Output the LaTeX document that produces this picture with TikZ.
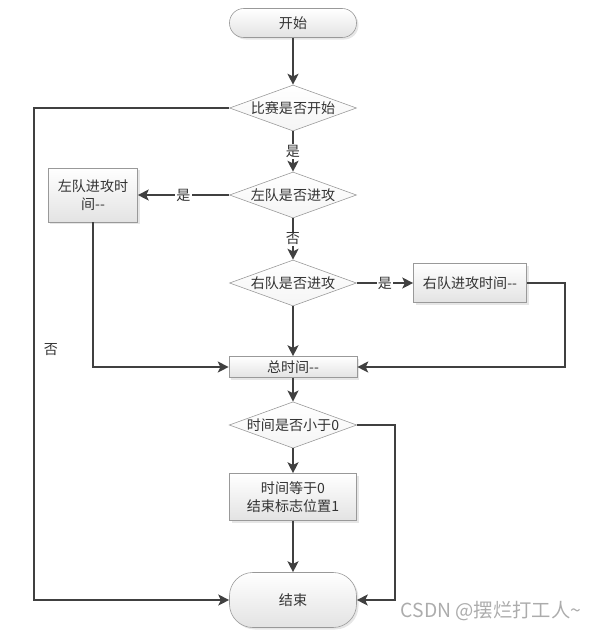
\documentclass[tikz,border=0pt]{standalone}
\usepackage{fontspec}
\setmainfont{Noto Sans CJK SC}
\usetikzlibrary{positioning,arrows.meta,shapes.geometric,shadows}

\begin{document}
\begin{tikzpicture}[x=0.3mm, y=-0.3mm, >={Stealth[length=3.3mm,width=3.3mm,inset=0.8mm]},
  every node/.style={font=\fontsize{12}{15}\selectfont, text=black!80},
  box/.style={draw=gray!80, line width=0.5pt, top color=white, bottom color=gray!22, align=center, inner sep=2pt,
    drop shadow={opacity=0.2, shadow xshift=0.6mm, shadow yshift=-0.6mm}},
  term/.style={box, minimum width=38.1mm},
  decide/.style={diamond, draw=gray!80, line width=0.5pt, top color=white, bottom color=gray!8, aspect=2.75,
    inner sep=0pt, minimum width=38.1mm, minimum height=13.8mm},
  flow/.style={->, draw=black!75, line width=1.4pt},
  tag/.style={fill=white, inner sep=1pt}]
\useasboundingbox (0,0) rectangle (598,634);

% nodes
\node[term, rounded corners=4.3mm, minimum height=8.7mm] (start) at (293,23) {开始};
\node[decide] (d1) at (293,108) {比赛是否开始};
\node[decide] (d2) at (293,195) {左队是否进攻};
\node[box, minimum width=26.7mm, minimum height=16.2mm] (lbox) at (93,195) {左队进攻时\\间-{}-};
\node[decide] (d3) at (293,283) {右队是否进攻};
\node[box, minimum width=33.9mm, minimum height=11.7mm] (rbox) at (470,283) {右队进攻时间-{}-};
\node[box, minimum width=38.4mm, minimum height=6.3mm] (total) at (293,367) {总时间-{}-};
\node[decide] (d4) at (293,425) {时间是否小于0};
\node[box, minimum width=38.1mm, minimum height=14.1mm] (flag) at (293,497) {时间等于0\\结束标志位置1};
\node[term, rounded corners=7mm, minimum height=16.5mm] (stop) at (293,600) {结束};
\node[text=gray!65, font=\fontsize{16.5}{19}\selectfont] (mark) at (491,611) {CSDN @摆烂打工人\textasciitilde};

% connectors
\draw[flow] (start) -- (d1);
\draw[flow] (d1) -- node[tag] {是} (d2);
\draw[flow] (d2) -- node[tag] {是} (lbox);
\draw[flow] (d2) -- node[tag] {否} (d3);
\draw[flow] (d3) -- node[tag] {是} (rbox);
\draw[flow] (d3) -- (total);
\draw[flow] (lbox.south) |- (total.west);
\draw[flow] (rbox.east) -- ++(38,0) |- (total.east);
\draw[flow] (total) -- (d4);
\draw[flow] (d4) -- (flag);
\draw[flow] (flag) -- (stop);
\draw[flow] (d4.east) -- ++(38,0) |- (stop.east);
\draw[flow] (d1.west) -- ++(-195,0) coordinate (lc) -- node[pos=0.49, right=1.5mm] {否} (lc |- stop.west) -- (stop.west);
\end{tikzpicture}
\end{document}
